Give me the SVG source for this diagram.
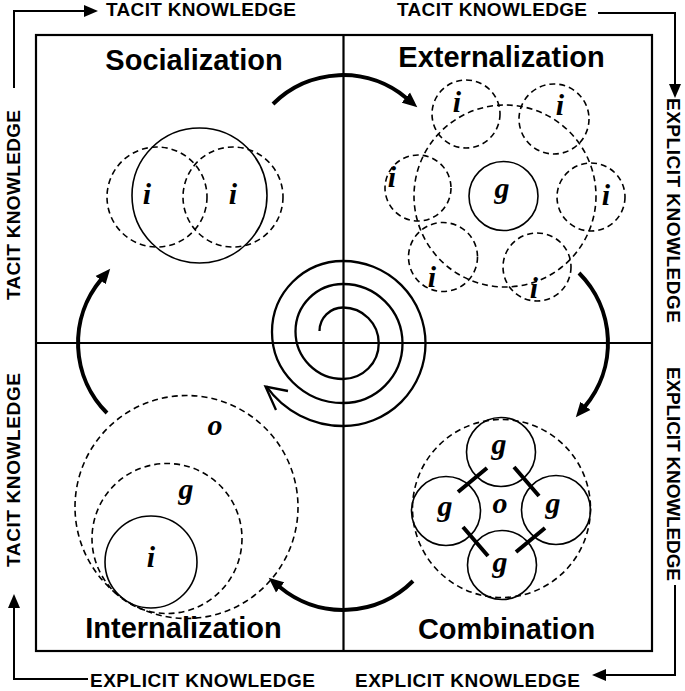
<svg xmlns="http://www.w3.org/2000/svg" width="685" height="691" viewBox="0 0 685 691">
<style>
.frame{fill:none;stroke:#000;stroke-width:2.2}
.solid{fill:none;stroke:#000;stroke-width:1.6}
.dash{fill:none;stroke:#000;stroke-width:1.6;stroke-dasharray:6 4}
.cyc{fill:none;stroke:#000;stroke-width:4}
.ax{fill:none;stroke:#000;stroke-width:2}
.spiral{fill:none;stroke:#000;stroke-width:2.3}
.bar{stroke:#000;stroke-width:4}
.title{font-family:"Liberation Sans",Arial,sans-serif;font-weight:bold;font-size:29px;text-anchor:middle;fill:#000}
.axis{font-family:"Liberation Sans",Arial,sans-serif;font-weight:bold;font-size:19px;fill:#000}
.var{font-family:"Liberation Serif","Times New Roman",serif;font-weight:bold;font-style:italic;font-size:30px;text-anchor:middle;fill:#000}
</style>
<defs>
<marker id="ah" markerUnits="userSpaceOnUse" viewBox="0 -7 16 14" markerWidth="16" markerHeight="14" refX="1" refY="0" orient="auto"><path d="M0,-6.5 L15,0 L0,6.5 z" fill="#000"/></marker>
<marker id="axh" markerUnits="userSpaceOnUse" viewBox="0 -7 15 14" markerWidth="15" markerHeight="14" refX="1" refY="0" orient="auto"><path d="M0,-6 L14,0 L0,6 z" fill="#000"/></marker>
</defs>
<rect width="685" height="691" fill="#fff"/>

<g id="frame">
<rect class="frame" x="36" y="35" width="616" height="616"/>
<path class="frame" d="M343.5 35 V651 M36 343 H652"/>
</g>

<g id="socialization">
<text class="title" x="194" y="70">Socialization</text>
<circle class="solid" cx="199.5" cy="195.5" r="67.5"/>
<circle class="dash" cx="157" cy="197" r="50"/>
<circle class="dash" cx="233" cy="197" r="50"/>
<text class="var" x="147" y="204">i</text>
<text class="var" x="233" y="204">i</text>
</g>

<g id="externalization">
<text class="title" x="501.5" y="67">Externalization</text>
<circle class="dash" cx="505" cy="196" r="91"/>
<circle class="solid" cx="503.5" cy="196" r="34.5"/>
<circle class="dash" cx="466" cy="114" r="34"/>
<circle class="dash" cx="554" cy="119" r="35"/>
<circle class="dash" cx="418" cy="188" r="33"/>
<circle class="dash" cx="591" cy="197" r="34"/>
<circle class="dash" cx="443" cy="257" r="34.5"/>
<circle class="dash" cx="537" cy="267" r="34"/>
<text class="var" x="457" y="112">i</text>
<text class="var" x="560" y="115">i</text>
<text class="var" x="392" y="187">i</text>
<text class="var" x="606" y="205">i</text>
<text class="var" x="432" y="287">i</text>
<text class="var" x="534" y="298">i</text>
<text class="var" x="502" y="198">g</text>
</g>

<g id="combination">
<text class="title" x="506.5" y="639">Combination</text>
<circle class="dash" cx="501.5" cy="508.5" r="89"/>
<circle class="solid" cx="501" cy="452" r="34.5"/>
<circle class="solid" cx="446" cy="511" r="34.5"/>
<circle class="solid" cx="556" cy="510" r="34.5"/>
<circle class="solid" cx="502" cy="565" r="34.5"/>
<path class="bar" d="M458 492 L487 468 M514 467 L539 496 M463 527 L488 556 M516 552 L545 528"/>
<text class="var" x="499" y="454">g</text>
<text class="var" x="445" y="516">g</text>
<text class="var" x="553" y="513">g</text>
<text class="var" x="500" y="572">g</text>
<text class="var" x="500" y="513">o</text>
</g>

<g id="internalization">
<text class="title" x="183.5" y="638">Internalization</text>
<circle class="dash" cx="186.5" cy="507" r="111.5"/>
<circle class="dash" cx="167" cy="538.5" r="75"/>
<circle class="solid" cx="151" cy="562" r="46"/>
<text class="var" x="215" y="435">o</text>
<text class="var" x="186" y="499">g</text>
<text class="var" x="151" y="567">i</text>
</g>

<g id="axis-labels">
<text class="axis" x="106" y="16" textLength="190">TACIT KNOWLEDGE</text>
<text class="axis" x="397" y="16" textLength="190">TACIT KNOWLEDGE</text>
<text class="axis" x="90" y="687" textLength="225">EXPLICIT KNOWLEDGE</text>
<text class="axis" x="355" y="687" textLength="225">EXPLICIT KNOWLEDGE</text>
<text class="axis" transform="translate(667,98) rotate(90)" x="0" y="0" textLength="225">EXPLICIT KNOWLEDGE</text>
<text class="axis" transform="translate(667,367) rotate(90)" x="0" y="0" textLength="214">EXPLICIT KNOWLEDGE</text>
<text class="axis" transform="translate(20,300) rotate(-90)" x="0" y="0" textLength="190">TACIT KNOWLEDGE</text>
<text class="axis" transform="translate(20,567) rotate(-90)" x="0" y="0" textLength="194">TACIT KNOWLEDGE</text>
</g>

<g id="connectors">
<path class="ax" d="M14 88 L14 11 L85 11" marker-end="url(#axh)"/>
<path class="ax" d="M598 13 L675 13 L675 85" marker-end="url(#axh)"/>
<path class="ax" d="M675 585 L675 675 L605 675" marker-end="url(#axh)"/>
<path class="ax" d="M88 679 L14 679 L14 607" marker-end="url(#axh)"/>
<path class="cyc" d="M273 104 A99 99 0 0 1 406.6 98.2" marker-end="url(#ah)"/>
<path class="cyc" d="M579 273 A99 99 0 0 1 584.8 406.6" marker-end="url(#ah)"/>
<path class="cyc" d="M413 581 A99 99 0 0 1 279.4 586.8" marker-end="url(#ah)"/>
<path class="cyc" d="M107 413 A99 99 0 0 1 101.2 279.4" marker-end="url(#ah)"/>
<path class="spiral" d="M319.5 331 A23.5 23.5 0 0 1 343 307.5 A35.75 35.75 0 0 1 343 379 A47.5 47.5 0 0 1 343 284 A59.5 59.5 0 0 1 343 403 A71 71 0 0 1 343 261 A82.5 82.5 0 0 1 343 426 A94 94 0 0 1 266.2 386.2"/>
<path class="spiral" d="M288 391 L265.5 386.5 L276 410"/>
</g>
</svg>
